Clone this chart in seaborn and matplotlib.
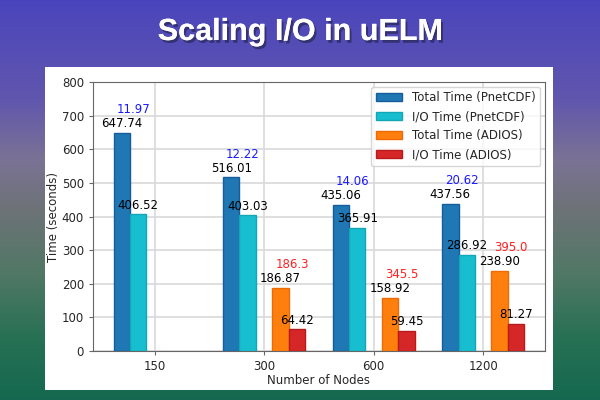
import numpy as np
import pandas as pd
import seaborn as sns
import matplotlib.pyplot as plt
import matplotlib.patheffects as pe
from matplotlib.patches import Patch, Rectangle
from matplotlib.colors import LinearSegmentedColormap, to_hex

# data
nodes = ['150', '300', '600', '1200']
total_pnetcdf = [647.74, 516.01, 435.06, 437.56]
io_pnetcdf = [406.52, 403.03, 365.91, 286.92]
total_adios = [np.nan, 186.87, 158.92, 238.90]
io_adios = [np.nan, 64.42, 59.45, 81.27]
pnetcdf_notes = [11.97, 12.22, 14.06, 20.62]
adios_notes = [186.3, 345.5, 395.0]  # only 300, 600, 1200

# blank middle level keeps the gap between the two groups of bars
series = ['Total Time (PnetCDF)', 'I/O Time (PnetCDF)', ' ',
          'Total Time (ADIOS)', 'I/O Time (ADIOS)']
colors = ['#1f77b4', '#17becf', '#ffffff', '#ff7f0e', '#d62728']
edges = ['#155d9c', '#13a6b5', '#ffffff', '#ee6a05', '#b8191b']

rows = []
for name, vals in zip(series, [total_pnetcdf, io_pnetcdf, [np.nan] * 4, total_adios, io_adios]):
    for n, v in zip(nodes, vals):
        rows.append({'Nodes': n, 'Series': name, 'Time': v})
df = pd.DataFrame(rows)

sns.set_style('white')
plt.rcParams['font.family'] = ['DejaVu Sans']

fig = plt.figure(figsize=(6, 4), dpi=100)

# background gradient + white panel
bg = fig.add_axes([0, 0, 1, 1])
grad = LinearSegmentedColormap.from_list('bg', [
    (0.0, (0.29, 0.27, 0.74)),
    (0.25, (0.38, 0.34, 0.68)),
    (0.40, (0.48, 0.45, 0.58)),
    (0.52, (0.43, 0.45, 0.47)),
    (0.68, (0.32, 0.47, 0.40)),
    (0.85, (0.15, 0.44, 0.33)),
    (1.0, (0.08, 0.41, 0.31)),
])
bg.imshow(np.linspace(0, 1, 256).reshape(-1, 1), cmap=grad, aspect='auto',
          extent=[0, 1, 0, 1])
bg.add_patch(Rectangle((45 / 600, 1 - 390 / 400), 508 / 600, 323 / 400,
                       facecolor='white', edgecolor='none'))
bg.set_xlim(0, 1)
bg.set_ylim(0, 1)
bg.axis('off')

fig.text(0.5, 0.92, 'Scaling I/O in uELM', color='white', fontsize=22,
         fontweight='bold', family='Liberation Sans', ha='center', va='center',
         path_effects=[pe.withSimplePatchShadow(offset=(1.5, -2), shadow_rgbFace='#222244', alpha=0.6),
                       pe.Normal()])

ax = fig.add_axes([0.155, 0.1225, 0.753, 0.6725])
sns.barplot(data=df, x='Nodes', y='Time', hue='Series', hue_order=series,
            order=nodes, palette=dict(zip(series, colors)), width=0.75,
            gap=0, saturation=1, errorbar=None, legend=False, ax=ax, zorder=3)

# find each series' bars by their fill colour
conts = {}
for cont in ax.containers:
    if len(cont) == 0:
        continue
    fc = to_hex(cont[0].get_facecolor())
    for name, c in zip(series, colors):
        if fc == c:
            conts[name] = cont
for name, ec in zip(series, edges):
    for bar in conts.get(name, []):
        bar.set_edgecolor(ec)
        bar.set_linewidth(1)

ax.set_xlim(-0.5625, 3.5625)
ax.set_ylim(0, 800)
ax.set_yticks(range(0, 801, 100))
ax.grid(True, color='#d9d9d9', linewidth=1.2, zorder=0)
ax.set_axisbelow(True)
for s in ax.spines.values():
    s.set_color('#666666')
ax.tick_params(axis='both', labelsize=8.5, length=3, color='#666666', left=True, bottom=True)
ax.set_xlabel('Number of Nodes', fontsize=8.5, labelpad=1)
ax.set_ylabel('Time (seconds)', fontsize=8.5, labelpad=1)

for name in series:
    if name in conts and name.strip():
        ax.bar_label(conts[name], fmt='%.2f', padding=2, fontsize=8.5, color='black', zorder=4)

# extra coloured notes above the total-time bars
for bar, note in zip(conts[series[0]], pnetcdf_notes):
    ax.text(bar.get_x() + bar.get_width() * 1.2, bar.get_height() + 50, f'{note:.2f}',
            color='#1a1aff', fontsize=8.5, ha='center', va='bottom')
adios_bars = [b for b in conts[series[3]] if b.get_height() > 0]
for bar, note in zip(adios_bars, adios_notes):
    ax.text(bar.get_x() + bar.get_width() * 1.2, bar.get_height() + 50, f'{note}',
            color='#ff2020', fontsize=8.5, ha='center', va='bottom')

handles = [Patch(facecolor=c, edgecolor=e, label=s)
           for s, c, e in zip(series, colors, edges) if s.strip()]
ax.legend(handles=handles, loc='upper right', fontsize=8.5, frameon=True,
          borderaxespad=0.4, handlelength=2.2)

fig.savefig('out.png', dpi=100)
